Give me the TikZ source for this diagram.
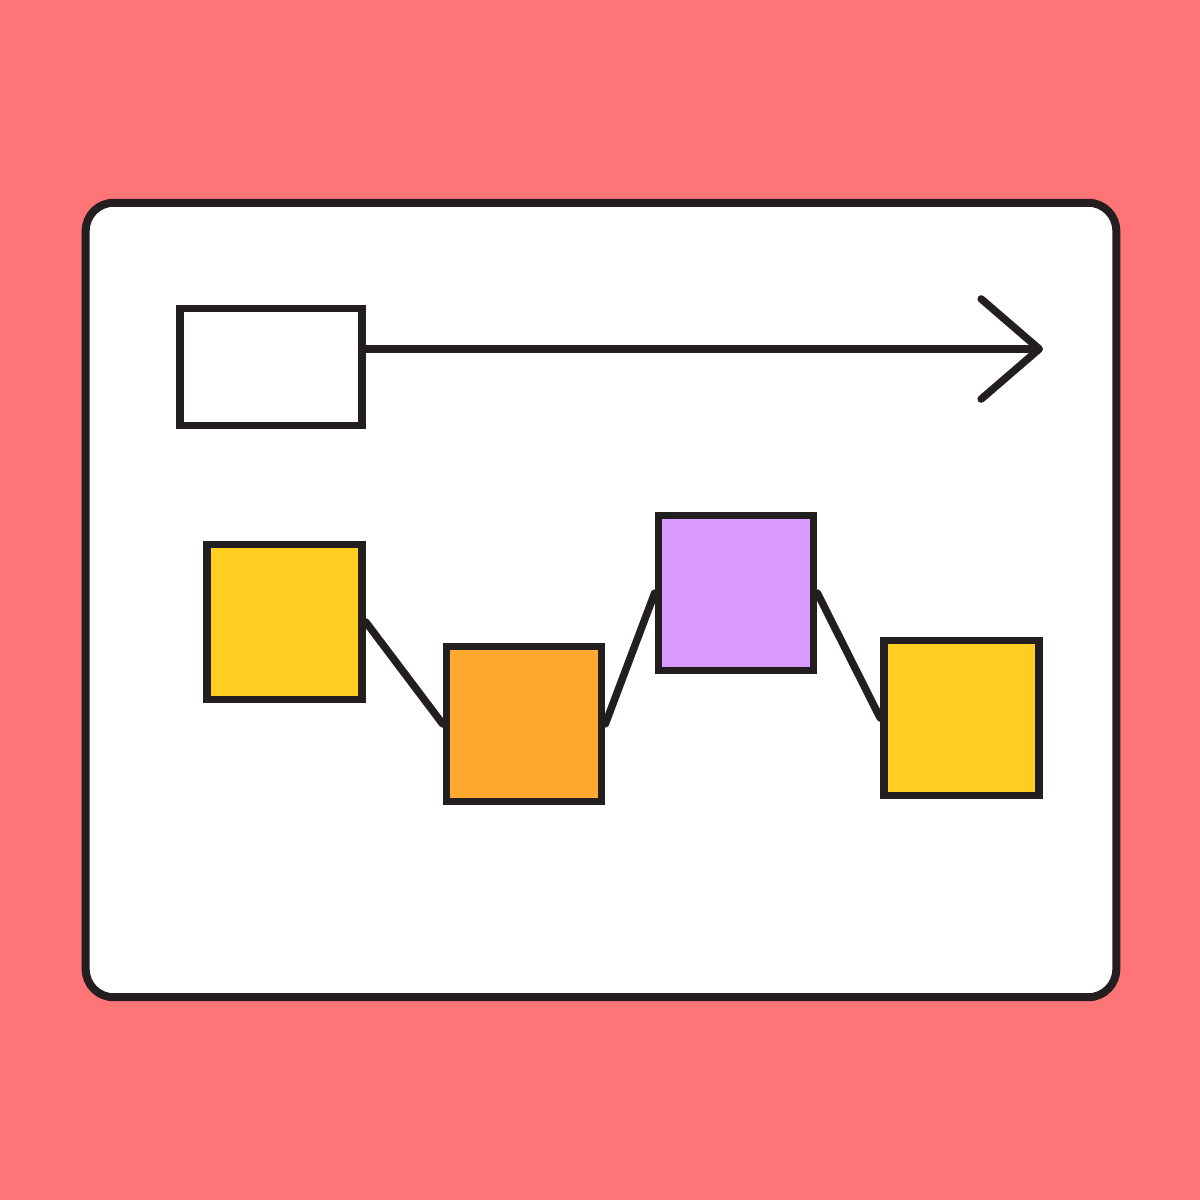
\documentclass[tikz,border=0pt]{standalone}
\usetikzlibrary{positioning}
\usetikzlibrary{arrows.meta}
\definecolor{bgred}{HTML}{FF7577}
\definecolor{ink}{HTML}{231F20}
\definecolor{stickyyellow}{HTML}{FFCE21}
\definecolor{stickyorange}{HTML}{FFA931}
\definecolor{stickypurple}{HTML}{D99BFF}
\begin{document}
\begin{tikzpicture}
	[x=0.01cm,y=-0.01cm,line width=0.075cm,draw=ink,
	board/.style={rectangle,draw,fill=white,line width=0.08cm,rounded corners=0.28cm,minimum width=10.30cm,minimum height=7.94cm,inner sep=0pt},
	card/.style={rectangle,draw,fill=white,minimum width=1.82cm,minimum height=1.17cm,inner sep=0pt},
	sticky/.style={rectangle,draw,minimum size=1.55cm,inner sep=0pt},
	link/.style={draw=ink,line cap=round}]
	\useasboundingbox (0,0) rectangle (1200,1200);
	\fill[bgred] (0,0) rectangle (1200,1200);
	\node[board] (board) at (601,600) {};
	\node[card] (start) at (271,367) {};
	\coordinate (tip) at (1043,349);
	\node[sticky,fill=stickyyellow] (s1) at (284.5,622) {};
	\node[sticky,fill=stickyorange] (s2) at (524,724) {};
	\node[sticky,fill=stickypurple] (s3) at (736,593) {};
	\node[sticky,fill=stickyyellow] (s4) at (961.5,718) {};
	\draw [-{Straight Barb[length=0.58cm,width=1.0cm,round]}] (start.east |- tip) -- (tip);
	\draw [link] (s1.east) -- (s2.west);
	\draw [link] (s2.east) -- (s3.west);
	\draw [link] (s3.east) -- (s4.west);
\end{tikzpicture}
\end{document}
